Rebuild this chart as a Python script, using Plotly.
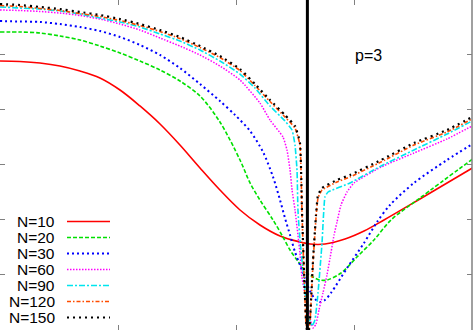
import plotly.graph_objects as go

# ---- data -------------------------------------------------------------
labels = ["N=10", "N=20", "N=30", "N=60", "N=90", "N=120", "N=150"]

x_n10 = [0, 0.169, 0.339, 0.508, 0.678, 0.847, 1.017, 1.186, 1.356, 1.525, 1.695, 1.864, 2.034,
         2.203, 2.373, 2.542, 2.627, 2.754, 2.924, 3.085, 3.254, 3.559, 4.017]
y_n10 = [4.873, 4.864, 4.836, 4.782, 4.691, 4.564, 4.345, 4.055, 3.727, 3.345, 2.927, 2.527, 2.164,
         1.891, 1.691, 1.582, 1.545, 1.545, 1.636, 1.782, 1.982, 2.364, 2.945]

x_n20 = [0, 0.169, 0.339, 0.508, 0.678, 0.847, 1.017, 1.186, 1.356, 1.525, 1.695, 1.864, 2.034, 2.119,
         2.203, 2.314, 2.398, 2.458, 2.517, 2.602, 2.653, 2.712, 2.771, 2.890, 3.025, 3.169, 3.314, 3.559,
         4.017]
y_n20 = [5.400, 5.400, 5.382, 5.327, 5.255, 5.145, 5.018, 4.873, 4.709, 4.509, 4.236, 3.764, 3.073, 2.655,
         2.345, 1.982, 1.673, 1.436, 1.255, 1.018, 0.945, 0.891, 0.891, 1.018, 1.309, 1.618, 1.982, 2.382,
         3.109]

x_n30 = [0, 0.169, 0.339, 0.508, 0.678, 0.847, 1.017, 1.186, 1.356, 1.525, 1.695, 1.864, 1.992, 2.119,
         2.229, 2.314, 2.373, 2.415, 2.458, 2.500, 2.542, 2.585, 2.627, 2.669, 2.712, 2.754, 2.805, 2.941,
         3.085, 3.195, 3.305, 3.508, 3.788, 4.017]
y_n30 = [5.600, 5.591, 5.582, 5.545, 5.491, 5.418, 5.309, 5.164, 4.982, 4.745, 4.455, 4.145, 3.891, 3.600,
         3.218, 2.764, 2.345, 2.018, 1.709, 1.400, 1.164, 0.909, 0.691, 0.545, 0.491, 0.527, 0.655, 1.109,
         1.564, 1.945, 2.255, 2.655, 3.073, 3.382]

x_n60 = [0, 0.169, 0.339, 0.508, 0.678, 0.847, 1.017, 1.186, 1.356, 1.525, 1.695, 1.864, 2.034, 2.203,
         2.288, 2.398, 2.432, 2.458, 2.475, 2.500, 2.542, 2.559, 2.602, 2.627, 2.653, 2.678, 2.703, 2.737,
         2.771, 2.797, 2.831, 2.856, 2.890, 2.941, 3.000, 3.229, 3.508, 3.788, 4.017]
y_n60 = [5.800, 5.791, 5.773, 5.745, 5.700, 5.636, 5.545, 5.436, 5.291, 5.145, 4.982, 4.782, 4.527, 4.109,
         3.800, 3.491, 3.255, 2.891, 2.527, 2.164, 1.382, 0.945, 0.436, 0.200, 0.018, 0.091, 0.345, 0.655,
         0.982, 1.291, 1.709, 1.945, 2.255, 2.491, 2.655, 2.945, 3.200, 3.455, 3.709]

x_n90 = [0, 0.169, 0.339, 0.508, 0.678, 0.847, 1.017, 1.186, 1.356, 1.525, 1.695, 1.864, 2.034, 2.161,
         2.288, 2.415, 2.475, 2.500, 2.517, 2.525, 2.542, 2.568, 2.593, 2.619, 2.644, 2.669, 2.695, 2.729,
         2.754, 2.780, 2.966, 3.229, 3.508, 3.788, 4.017]
y_n90 = [5.855, 5.836, 5.818, 5.782, 5.727, 5.655, 5.582, 5.491, 5.364, 5.236, 5.073, 4.873, 4.636, 4.382,
         4.055, 3.782, 3.618, 3.345, 2.891, 2.164, 1.618, 1.073, 0.527, 0.200, 0.055, 0.164, 0.655, 1.564,
         2.400, 2.491, 2.655, 2.964, 3.255, 3.545, 3.800]

x_n120 = [0, 0.169, 0.339, 0.508, 0.678, 0.847, 1.017, 1.186, 1.356, 1.525, 1.695, 1.864, 2.034, 2.161,
          2.288, 2.415, 2.500, 2.542, 2.559, 2.576, 2.593, 2.610, 2.627, 2.653, 2.678, 2.695, 2.729, 2.856,
          2.966, 3.229, 3.508, 3.788, 4.017]
y_n120 = [5.882, 5.864, 5.827, 5.791, 5.736, 5.682, 5.609, 5.518, 5.409, 5.282, 5.118, 4.936, 4.700, 4.427,
          4.136, 3.855, 3.655, 3.345, 2.127, 1.036, 0.127, -0.127, 0.127, 1.218, 2.018, 2.382, 2.527, 2.673,
          2.764, 3.036, 3.345, 3.582, 3.836]

x_n150 = [0, 0.169, 0.339, 0.508, 0.678, 0.847, 1.017, 1.186, 1.356, 1.525, 1.695, 1.864, 2.034, 2.161,
          2.288, 2.415, 2.500, 2.542, 2.559, 2.576, 2.593, 2.610, 2.627, 2.653, 2.678, 2.695, 2.729, 2.856,
          2.966, 3.229, 3.508, 3.788, 4.017]
y_n150 = [5.909, 5.891, 5.855, 5.818, 5.764, 5.709, 5.636, 5.545, 5.436, 5.309, 5.145, 4.964, 4.727, 4.455,
          4.164, 3.891, 3.691, 3.382, 2.164, 1.073, 0.164, -0.164, 0.164, 1.255, 2.073, 2.436, 2.564, 2.709,
          2.800, 3.073, 3.382, 3.618, 3.873]

x_transition = 2.605
x_ticks = [1, 2, 3]
y_ticks = [0, 1, 2, 3, 4, 5]
panel_label = "p=3"

# ---- styles -----------------------------------------------------------
xs = [x_n10, x_n20, x_n30, x_n60, x_n90, x_n120, x_n150]
ys = [y_n10, y_n20, y_n30, y_n60, y_n90, y_n120, y_n150]
colors = ["#ff0000", "#00e000", "#0000ff", "#ff00ff", "#00e5ee", "#ff4d00", "#000000"]
dashes = ["solid", "4px,2px", "2px,3px", "1.5px,1.5px", "6px,2px,2px,2px", "4px,2px,1.5px,2px", "2px,4px"]
widths = [1.6, 1.6, 2.0, 1.5, 1.6, 1.6, 2.2]
smooth = [1.0, 0.9, 0.8, 0.5, 0.4, 0.4, 0.4]

FONT = "Liberation Sans, Arial, Helvetica, sans-serif"
GRAY = "#808080"

fig = go.Figure()
for lab, x, y, c, d, w, s in zip(labels, xs, ys, colors, dashes, widths, smooth):
    fig.add_trace(go.Scatter(x=x, y=y, mode="lines", name=lab, showlegend=False,
                             line=dict(color=c, dash=d, width=w, shape="spline", smoothing=s),
                             hoverinfo="skip"))

# transition marker
fig.add_vline(x=x_transition, line=dict(color="black", width=3))

# right-hand frame edge
fig.add_shape(type="line", xref="paper", yref="paper", x0=1, x1=1, y0=0, y1=1,
              line=dict(color=GRAY, width=1.5))

# key: right-aligned labels with line samples to their right
H = 330
row0, row_step = 221.5, 16.0
text_right = 57 / 472
sample_left, sample_right = 67 / 472, 110 / 472
for i, (lab, c, d, w) in enumerate(zip(labels, colors, dashes, widths)):
    yp = 1 - (row0 + i * row_step) / H
    fig.add_annotation(x=text_right, y=yp, xref="paper", yref="paper", text=lab,
                       showarrow=False, xanchor="right", yanchor="middle",
                       font=dict(family=FONT, size=15.5, color="black"))
    fig.add_shape(type="line", xref="paper", yref="paper", x0=sample_left, x1=sample_right,
                  y0=yp, y1=yp, line=dict(color=c, dash=d, width=w))

fig.add_annotation(x=368 / 472, y=1 - 55.5 / H, xref="paper", yref="paper", text=panel_label,
                   showarrow=False, xanchor="center", yanchor="middle",
                   font=dict(family=FONT, size=16, color="black"))

axis_common = dict(showgrid=False, zeroline=False, showline=False, ticks="inside", ticklen=5,
                   tickwidth=1, tickcolor=GRAY, mirror="ticks", showticklabels=False)
fig.update_xaxes(range=[0, 4.0], tickvals=x_ticks, **axis_common)
fig.update_yaxes(range=[-1 / 55, 329 / 55], tickvals=y_ticks, **axis_common)

fig.update_layout(width=474, height=330, margin=dict(l=0, r=2, t=0, b=0),
                  paper_bgcolor="white", plot_bgcolor="white", showlegend=False)

fig.write_html("out.html", config={"displayModeBar": False})
